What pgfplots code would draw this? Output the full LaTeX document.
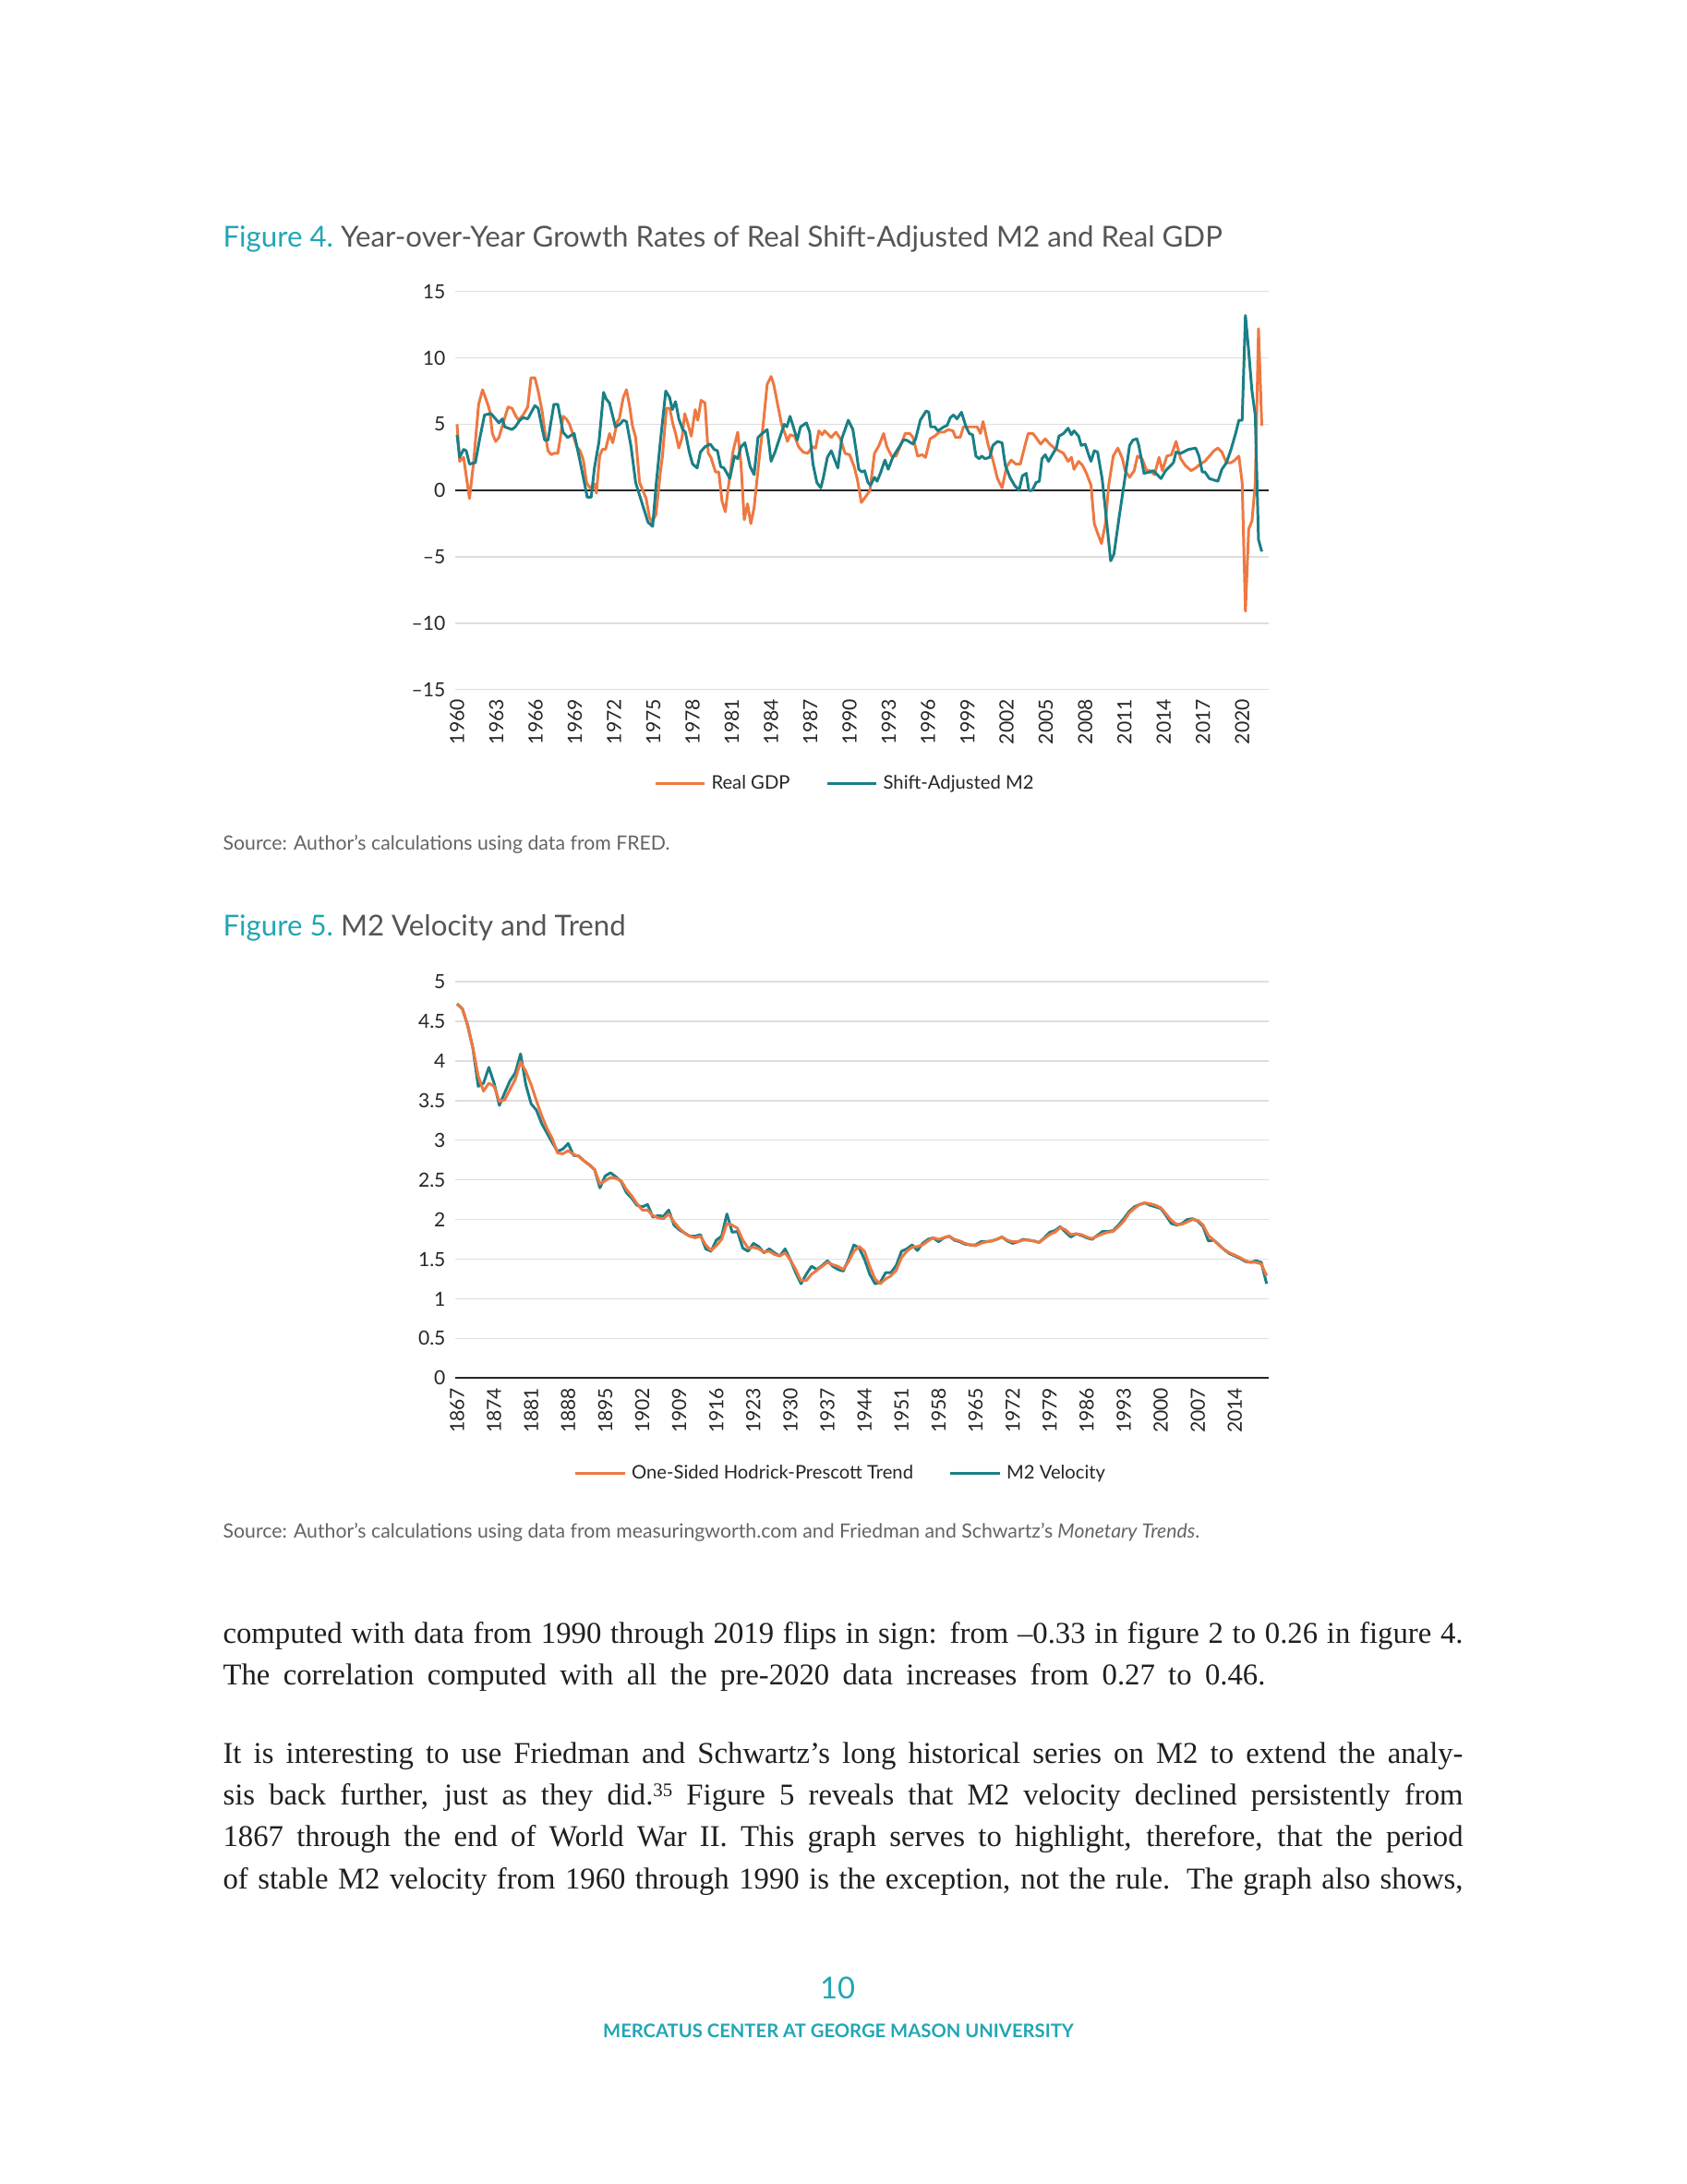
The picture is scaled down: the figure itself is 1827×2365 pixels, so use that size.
\documentclass[border=0pt]{standalone}
\usepackage{pgfplots}
\pgfplotsset{compat=1.18}
\usepackage{pgfplotstable}
\usepackage{fontspec}
\setmainfont{Liberation Serif}
\newfontfamily\sansf{Lato}
\definecolor{gdp}{RGB}{238,120,66}
\definecolor{mtwo}{RGB}{26,127,134}
\definecolor{figcyan}{RGB}{33,166,181}
\definecolor{titlegray}{RGB}{85,85,85}
\definecolor{srcgray}{RGB}{100,100,100}
\definecolor{gridgray}{RGB}{222,222,222}

\pgfplotstableread{
yr trend vel
1867 4.72 4.72
1868 4.66 4.66
1869 4.45 4.45
1870 4.16 4.16
1871 3.81 3.68
1872 3.62 3.72
1873 3.72 3.92
1874 3.68 3.72
1875 3.49 3.44
1876 3.51 3.60
1877 3.64 3.75
1878 3.77 3.85
1879 3.99 4.09
1880 3.87 3.70
1881 3.70 3.46
1882 3.50 3.38
1883 3.31 3.21
1884 3.15 3.09
1885 3.02 2.97
1886 2.84 2.86
1887 2.83 2.89
1888 2.87 2.96
1889 2.82 2.81
1890 2.80 2.80
1891 2.74 2.74
1892 2.69 2.69
1893 2.63 2.63
1894 2.45 2.40
1895 2.49 2.55
1896 2.53 2.59
1897 2.52 2.54
1898 2.49 2.48
1899 2.38 2.34
1900 2.30 2.27
1901 2.20 2.18
1902 2.12 2.16
1903 2.12 2.19
1904 2.05 2.03
1905 2.02 2.05
1906 2.01 2.04
1907 2.07 2.12
1908 1.97 1.93
1909 1.89 1.87
1910 1.83 1.83
1911 1.79 1.79
1912 1.77 1.79
1913 1.79 1.81
1914 1.68 1.63
1915 1.61 1.60
1916 1.67 1.74
1917 1.75 1.79
1918 1.95 2.07
1919 1.93 1.84
1920 1.89 1.85
1921 1.74 1.64
1922 1.64 1.60
1923 1.65 1.70
1924 1.63 1.66
1925 1.59 1.58
1926 1.60 1.63
1927 1.56 1.58
1928 1.54 1.54
1929 1.58 1.63
1930 1.49 1.49
1931 1.37 1.33
1932 1.23 1.19
1933 1.23 1.31
1934 1.31 1.41
1935 1.36 1.37
1936 1.41 1.42
1937 1.46 1.48
1938 1.43 1.41
1939 1.41 1.37
1940 1.37 1.35
1941 1.47 1.50
1942 1.60 1.68
1943 1.66 1.64
1944 1.60 1.50
1945 1.41 1.31
1946 1.25 1.19
1947 1.19 1.21
1948 1.25 1.33
1949 1.29 1.33
1950 1.36 1.42
1951 1.52 1.60
1952 1.60 1.63
1953 1.65 1.68
1954 1.66 1.61
1955 1.68 1.70
1956 1.73 1.75
1957 1.77 1.77
1958 1.75 1.72
1959 1.77 1.77
1960 1.79 1.79
1961 1.75 1.74
1962 1.73 1.72
1963 1.70 1.69
1964 1.68 1.68
1965 1.67 1.68
1966 1.70 1.72
1967 1.72 1.72
1968 1.73 1.73
1969 1.75 1.75
1970 1.78 1.78
1971 1.74 1.73
1972 1.72 1.70
1973 1.72 1.72
1974 1.74 1.75
1975 1.74 1.74
1976 1.73 1.73
1977 1.71 1.71
1978 1.76 1.77
1979 1.81 1.84
1980 1.84 1.86
1981 1.90 1.91
1982 1.87 1.84
1983 1.81 1.78
1984 1.82 1.82
1985 1.81 1.80
1986 1.78 1.77
1987 1.76 1.75
1988 1.79 1.80
1989 1.82 1.85
1990 1.84 1.85
1991 1.85 1.86
1992 1.91 1.93
1993 1.98 2.01
1994 2.08 2.10
1995 2.14 2.16
1996 2.19 2.19
1997 2.21 2.21
1998 2.20 2.18
1999 2.18 2.16
2000 2.15 2.14
2001 2.07 2.05
2002 1.99 1.95
2003 1.94 1.93
2004 1.94 1.95
2005 1.97 2.00
2006 2.00 2.01
2007 1.99 1.98
2008 1.93 1.91
2009 1.80 1.73
2010 1.74 1.74
2011 1.68 1.68
2012 1.62 1.62
2013 1.58 1.57
2014 1.55 1.54
2015 1.52 1.51
2016 1.48 1.47
2017 1.46 1.46
2018 1.46 1.48
2019 1.44 1.46
2020 1.29 1.19
}\velotable

\begin{document}
\begin{tikzpicture}[x=0.33621pt,y=0.33621pt]
\fill[white] (0,0) rectangle (1827,2365);
\path[use as bounding box] (0,0) rectangle (1827,2365);

% ---------- Figure 4 ----------
\node[anchor=mid west, inner sep=0] at (241,2104) {\sansf\fontsize{10.5}{12}\selectfont\color{figcyan}Figure 4.\ \color{titlegray}Year-over-Year Growth Rates of Real Shift-Adjusted M2 and Real GDP};

\begin{axis}[
  at={(165.75pt,544.09pt)}, anchor=south west, scale only axis,
  width=296.2pt, height=144.9pt,
  xmin=1959.86, xmax=2022.03, ymin=-15, ymax=15,
  ytick={-15,-10,-5,0,5,10,15},
  yticklabels={\textendash15,\textendash10,\textendash5,0,5,10,15},
  xtick={1960,1963,...,2020},
  xticklabels={1960,1963,1966,1969,1972,1975,1978,1981,1984,1987,1990,1993,1996,1999,2002,2005,2008,2011,2014,2017,2020},
  axis line style={draw=none}, tick style={draw=none}, major tick length=0pt,
  ymajorgrids, grid style={line width=0.45pt, color=gridgray},
  extra y ticks={0}, extra y tick labels={},
  extra y tick style={grid style={line width=0.5pt, color=black!85}},
  tick label style={font=\sansf\fontsize{7.1}{8}\selectfont, color=black!85},
  xticklabel style={rotate=90, anchor=east},
  legend style={at={(0.481,-0.237)}, anchor=center, draw=none, fill=none,
    font=\sansf\fontsize{6.8}{8}\selectfont, text=black!85,
    /tikz/every even column/.append style={column sep=11pt}},
  legend columns=2,
  legend image code/.code={\draw[#1] (0pt,0pt) -- (18pt,0pt);},
]
\addplot[gdp, line width=1pt, line join=round, mark=none] coordinates {
(1960.0,5.0) (1960.2,2.2) (1960.5,2.5) (1960.95,-0.6) (1961.25,2.0) (1961.65,6.5) (1961.95,7.6)
(1962.35,6.5) (1962.5,6.0) (1962.7,4.3) (1962.95,3.7) (1963.2,4.0) (1963.5,5.0) (1963.9,6.3)
(1964.2,6.2) (1964.5,5.6) (1964.7,5.3) (1965.05,5.7) (1965.4,6.3) (1965.65,8.5) (1965.95,8.5)
(1966.2,7.5) (1966.5,6.0) (1966.7,4.5) (1966.95,3.0) (1967.2,2.7) (1967.4,2.8) (1967.7,2.8)
(1967.9,4.0) (1968.1,5.6) (1968.35,5.4) (1968.6,5.0) (1968.8,4.4) (1969.15,3.3) (1969.4,3.0)
(1969.65,2.3) (1969.9,0.6) (1970.15,0.2) (1970.5,0.5) (1970.65,-0.2) (1970.9,2.6) (1971.1,3.1)
(1971.35,3.1) (1971.65,4.3) (1971.9,3.6) (1972.25,5.2) (1972.4,5.4) (1972.7,7.0) (1972.95,7.6)
(1973.2,6.3) (1973.4,4.9) (1973.65,4.0) (1973.95,0.6) (1974.2,0.0) (1974.45,-0.6) (1974.7,-2.0)
(1974.9,-2.4) (1975.2,-1.8) (1975.55,1.5) (1975.7,2.6) (1976.0,6.2) (1976.25,6.2) (1976.5,5.0)
(1976.7,4.3) (1976.95,3.2) (1977.2,4.0) (1977.4,5.8) (1977.65,5.0) (1977.9,4.1) (1978.2,6.1)
(1978.4,5.3) (1978.65,6.8) (1978.95,6.6) (1979.2,2.8) (1979.4,2.5) (1979.75,1.4) (1980.0,1.4)
(1980.25,-0.8) (1980.5,-1.6) (1980.7,0.0) (1981.1,3.0) (1981.45,4.4) (1981.7,2.0) (1981.95,-2.2)
(1982.2,-1.0) (1982.45,-2.5) (1982.7,-1.3) (1983.1,2.5) (1983.4,5.0) (1983.7,8.0) (1984.0,8.6)
(1984.2,8.0) (1984.5,6.5) (1984.8,5.0) (1985.1,4.2) (1985.25,3.7) (1985.45,4.2) (1985.8,4.1)
(1986.1,3.3) (1986.45,2.9) (1986.8,2.8) (1987.15,3.3) (1987.4,3.2) (1987.65,4.5) (1987.9,4.2)
(1988.1,4.5) (1988.6,4.0) (1988.95,4.4) (1989.3,3.9) (1989.65,2.8) (1990.0,2.7) (1990.35,1.8)
(1990.6,0.8) (1990.9,-0.9) (1991.2,-0.5) (1991.55,0.0) (1991.9,2.8) (1992.25,3.4) (1992.6,4.3)
(1992.85,3.3) (1993.2,2.6) (1993.55,2.6) (1993.9,3.4) (1994.25,4.3) (1994.6,4.3) (1994.85,4.0)
(1995.2,2.6) (1995.55,2.7) (1995.8,2.5) (1996.15,3.9) (1996.5,4.1) (1996.85,4.4) (1997.2,4.4)
(1997.55,4.6) (1997.9,4.5) (1998.1,4.0) (1998.45,4.0) (1998.7,4.8) (1999.05,4.8) (1999.4,4.8)
(1999.75,4.8) (2000.0,4.3) (2000.2,5.2) (2000.6,3.4) (2000.95,2.3) (2001.3,0.9) (2001.65,0.2)
(2002.0,1.8) (2002.35,2.3) (2002.7,2.0) (2003.05,2.0) (2003.35,3.2) (2003.65,4.3) (2004.0,4.3)
(2004.25,4.0) (2004.6,3.5) (2004.95,3.9) (2005.3,3.5) (2005.65,3.2) (2006.0,3.0) (2006.35,2.8)
(2006.7,2.2) (2006.95,2.5) (2007.15,1.6) (2007.5,2.2) (2007.8,1.9) (2008.1,1.3) (2008.45,0.4)
(2008.7,-2.5) (2008.95,-3.2) (2009.25,-4.0) (2009.55,-2.5) (2009.8,0.4) (2010.15,2.6) (2010.5,3.2)
(2010.85,2.4) (2011.05,1.5) (2011.4,1.0) (2011.75,1.5) (2012.0,2.6) (2012.35,2.4) (2012.7,1.5)
(2012.95,1.5) (2013.3,1.2) (2013.65,2.5) (2013.9,1.5) (2014.25,2.6) (2014.6,2.7) (2014.95,3.7)
(2015.3,2.4) (2015.65,1.9) (2016.1,1.5) (2016.45,1.7) (2016.8,2.0) (2017.15,2.2) (2017.5,2.6)
(2017.85,3.0) (2018.15,3.2) (2018.45,2.9) (2018.8,2.1) (2019.15,2.1) (2019.45,2.3) (2019.75,2.6)
(2020.0,0.6) (2020.25,-9.1) (2020.5,-2.9) (2020.75,-2.3) (2021.0,0.5) (2021.25,12.2) (2021.5,4.9)
};
\addlegendentry{Real GDP}
\addplot[mtwo, line width=1pt, line join=round, mark=none] coordinates {
(1960.0,4.2) (1960.2,2.5) (1960.5,3.1) (1960.7,3.0) (1960.95,2.0) (1961.4,2.1) (1961.75,4.0)
(1962.1,5.7) (1962.6,5.8) (1963.2,5.1) (1963.45,5.4) (1963.65,4.8) (1964.2,4.6) (1964.45,4.8)
(1964.8,5.3) (1965.05,5.5) (1965.4,5.4) (1965.95,6.4) (1966.2,6.2) (1966.5,4.7) (1966.7,3.8)
(1966.95,3.8) (1967.4,6.5) (1967.7,6.5) (1968.1,4.4) (1968.45,4.0) (1968.95,4.3) (1969.4,2.2)
(1969.95,-0.5) (1970.25,-0.5) (1970.5,1.7) (1970.85,3.7) (1971.2,7.4) (1971.4,6.9) (1971.65,6.6)
(1972.1,4.8) (1972.45,5.0) (1972.7,5.3) (1972.95,5.2) (1973.3,3.3) (1973.65,0.6) (1973.9,-0.2)
(1974.25,-1.3) (1974.6,-2.4) (1974.95,-2.7) (1975.2,0.3) (1975.55,3.8) (1975.95,7.5) (1976.25,7.0)
(1976.45,6.1) (1976.7,6.7) (1976.95,5.4) (1977.25,4.6) (1977.45,4.4) (1977.75,2.9) (1978.0,2.0)
(1978.35,1.7) (1978.6,2.9) (1978.95,3.3) (1979.35,3.5) (1979.65,3.1) (1979.9,3.0) (1980.15,1.8)
(1980.4,1.7) (1980.85,0.9) (1981.2,2.6) (1981.45,2.4) (1981.7,3.3) (1982.0,3.6) (1982.4,1.8)
(1982.7,1.2) (1983.0,4.0) (1983.2,4.2) (1983.7,4.6) (1984.0,2.2) (1984.3,2.9) (1984.6,3.8)
(1985.0,5.0) (1985.2,4.8) (1985.45,5.6) (1985.7,4.8) (1986.0,3.8) (1986.25,4.8) (1986.7,5.1)
(1986.95,4.4) (1987.2,2.0) (1987.5,0.6) (1987.8,0.2) (1988.0,1.0) (1988.3,2.5) (1988.6,3.0)
(1989.1,1.7) (1989.4,3.9) (1989.9,5.3) (1990.25,4.6) (1990.5,3.0) (1990.7,1.6) (1990.95,1.4)
(1991.15,1.5) (1991.4,0.6) (1991.6,0.4) (1991.9,1.0) (1992.1,0.7) (1992.35,1.3) (1992.7,2.3)
(1992.95,1.6) (1993.3,2.5) (1993.8,3.3) (1994.1,3.8) (1994.35,3.8) (1994.85,3.5) (1995.05,3.9)
(1995.4,5.3) (1995.85,6.0) (1996.05,5.9) (1996.2,4.8) (1996.5,4.8) (1996.75,4.5) (1997.2,4.8)
(1997.45,4.9) (1997.7,5.5) (1997.95,5.7) (1998.2,5.4) (1998.55,5.9) (1998.9,4.8) (1999.15,4.3)
(1999.4,4.2) (1999.65,2.6) (1999.9,2.4) (2000.1,2.6) (2000.35,2.4) (2000.7,2.5) (2000.95,3.4)
(2001.3,3.7) (2001.65,3.6) (2001.9,1.9) (2002.25,1.0) (2002.6,0.4) (2002.95,0.0) (2003.2,1.1)
(2003.5,1.3) (2003.7,0.0) (2003.95,0.0) (2004.25,0.6) (2004.5,0.7) (2004.7,2.4) (2004.95,2.7)
(2005.2,2.2) (2005.55,2.8) (2005.8,3.2) (2006.0,4.1) (2006.35,4.3) (2006.7,4.7) (2006.95,4.2)
(2007.15,4.5) (2007.5,4.1) (2007.7,3.4) (2008.0,3.5) (2008.3,2.6) (2008.45,2.2) (2008.7,3.0)
(2008.95,2.9) (2009.3,0.9) (2009.65,-2.4) (2009.95,-5.3) (2010.2,-4.8) (2010.6,-2.0) (2011.05,1.0)
(2011.4,3.4) (2011.65,3.8) (2011.95,3.9) (2012.1,3.4) (2012.5,1.3) (2012.95,1.4) (2013.2,1.5)
(2013.8,0.9) (2014.15,1.5) (2014.75,2.1) (2014.95,2.9) (2015.3,2.8) (2015.9,3.1) (2016.45,3.2)
(2016.7,2.6) (2016.95,1.4) (2017.15,1.4) (2017.5,0.9) (2018.15,0.7) (2018.45,1.6) (2018.8,2.1)
(2019.15,3.1) (2019.5,4.3) (2019.75,5.3) (2020.0,5.3) (2020.25,13.2) (2020.5,10.5) (2020.75,7.5)
(2021.0,5.7) (2021.25,-3.7) (2021.5,-4.6)
};
\addlegendentry{Shift-Adjusted M2}
\end{axis}

\node[anchor=mid west, inner sep=0] at (241,1451.3) {\sansf\fontsize{7.15}{9}\selectfont\color{srcgray}Source: Author’s calculations using data from FRED.};

% ---------- Figure 5 ----------
\node[anchor=mid west, inner sep=0] at (241,1358.7) {\sansf\fontsize{10.5}{12}\selectfont\color{figcyan}Figure 5.\ \color{titlegray}M2 Velocity and Trend};

\begin{axis}[
  at={(165.75pt,293.41pt)}, anchor=south west, scale only axis,
  width=296.2pt, height=144.3pt,
  xmin=1866.65, xmax=2020.4, ymin=0, ymax=5,
  ytick={0,0.5,1,1.5,2,2.5,3,3.5,4,4.5,5},
  yticklabels={0,0.5,1,1.5,2,2.5,3,3.5,4,4.5,5},
  xtick={1867,1874,...,2014},
  xticklabels={1867,1874,1881,1888,1895,1902,1909,1916,1923,1930,1937,1944,1951,1958,1965,1972,1979,1986,1993,2000,2007,2014},
  axis line style={draw=none}, tick style={draw=none}, major tick length=0pt,
  ymajorgrids, grid style={line width=0.45pt, color=gridgray},
  extra y ticks={0}, extra y tick labels={},
  extra y tick style={grid style={line width=0.75pt, color=black!85}},
  tick label style={font=\sansf\fontsize{7.1}{8}\selectfont, color=black!85},
  xticklabel style={rotate=90, anchor=east},
  legend style={at={(0.476,-0.2416)}, anchor=center, draw=none, fill=none,
    font=\sansf\fontsize{6.8}{8}\selectfont, text=black!85,
    /tikz/every even column/.append style={column sep=11pt}},
  legend columns=2, reverse legend,
  legend image code/.code={\draw[#1] (0pt,0pt) -- (18pt,0pt);},
]
\addplot[mtwo, line width=1pt, line join=round, mark=none] table[x=yr, y=vel] {\velotable};
\addlegendentry{M2 Velocity}
\addplot[gdp, line width=1pt, line join=round, mark=none] table[x=yr, y=trend] {\velotable};
\addlegendentry{One-Sided Hodrick-Prescott Trend}
\end{axis}

\node[anchor=mid west, inner sep=0] at (241,706) {\sansf\fontsize{7.15}{9}\selectfont\color{srcgray}Source: Author’s calculations using data from measuringworth.com and Friedman and Schwartz’s \textit{Monetary Trends}.};

% ---------- Body text ----------
\begin{scope}[every node/.style={anchor=mid west, inner sep=0, font=\fontsize{11}{13}\selectfont, text=black!88}]
\node at (241,592.5) {\makebox[451.5pt][s]{computed with data from 1990 through 2019 flips in sign: from –0.33 in figure 2 to 0.26 in figure 4.}};
\node at (241,547) {\makebox[379.5pt][s]{The correlation computed with all the pre-2020 data increases from 0.27 to 0.46.}};
\node at (241,462.5) {\makebox[451.5pt][s]{It is interesting to use Friedman and Schwartz’s long historical series on M2 to extend the analy-}};
\node at (241,417.5) {\makebox[451.5pt][s]{sis back further, just as they did.{\fontsize{7}{8}\selectfont\raisebox{0.9ex}{35}} Figure 5 reveals that M2 velocity declined persistently from}};
\node at (241,372) {\makebox[451.5pt][s]{1867 through the end of World War II. This graph serves to highlight, therefore, that the period}};
\node at (241,326.8) {\makebox[451.5pt][s]{of stable M2 velocity from 1960 through 1990 is the exception, not the rule. The graph also shows,}};
\end{scope}

% ---------- Footer ----------
\node[anchor=mid, inner sep=0] at (907,207.6) {\sansf\fontsize{11}{13}\selectfont\color{figcyan}10};
\node[anchor=mid, inner sep=0] at (908,165.5) {\sansf\bfseries\fontsize{6.8}{8}\selectfont\color{figcyan}MERCATUS CENTER AT GEORGE MASON UNIVERSITY};
\end{tikzpicture}
\end{document}
